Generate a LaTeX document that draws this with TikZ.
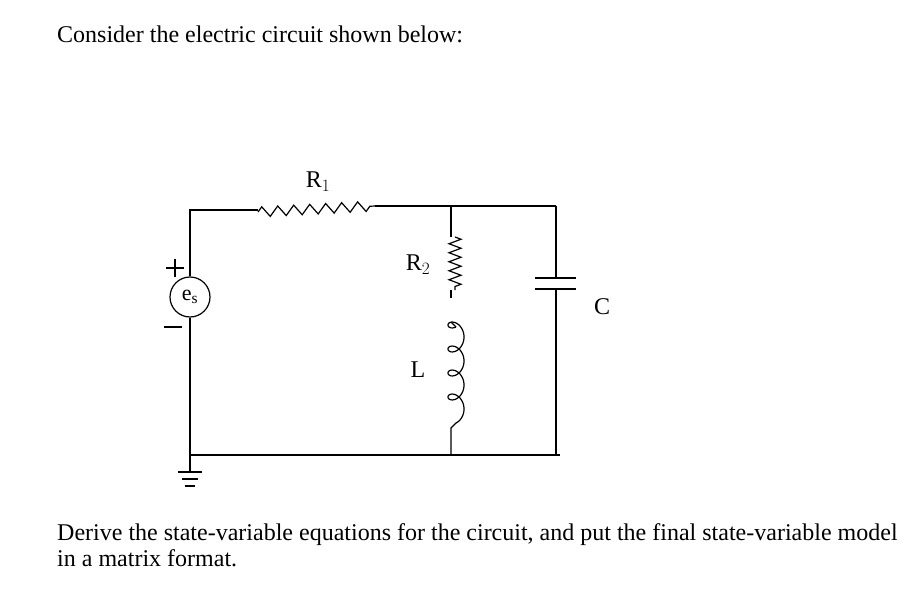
\documentclass[tikz,border=0pt]{standalone}
\usepackage{fontspec}
\setmainfont{Liberation Serif}
\usetikzlibrary{decorations.pathmorphing}
\begin{document}
\begin{tikzpicture}[x=1pt,y=-1pt,
  wire/.style={line width=1.2pt},
  zig/.style={wire,decorate,decoration={zigzag,amplitude=5pt,segment length=16pt}},
  zigb/.style={wire,decorate,decoration={zigzag,amplitude=6pt,segment length=9pt}},
  lbl/.style={font=\fontsize{24}{26}\selectfont,inner sep=0pt}]
\useasboundingbox (0,0) rectangle (918,596);
\node[lbl,anchor=base west] (t1) at (57,43) {Consider the electric circuit shown below:};
\node[lbl,anchor=base west] (t2) at (57,540) {Derive the state-variable equations for the circuit, and put the final state-variable model};
\node[lbl,anchor=base west] (t3) at (57,566) {in a matrix format.};
\coordinate (tl) at (190,210);
\coordinate (r1a) at (258,212);
\coordinate (r1b) at (375,206);
\coordinate (tm) at (451,206);
\coordinate (tr) at (556,206);
\coordinate (bl) at (190,455);
\coordinate (bm) at (451,455);
\coordinate (br) at (556,455);
\node[draw,wire,circle,minimum size=40pt,inner sep=0pt,font=\fontsize{22}{22}\selectfont] (es) at (190,297) {e$_\mathrm{s}$};
\draw[wire] (es) -- (tl) -- (258,210);
\draw[zig] (r1a) -- (r1b);
\draw[wire] (r1b) -- (tr);
\draw[wire] (es) -- (bl) -- (560,455);
\coordinate (r2a) at (451,237);
\coordinate (r2b) at (451,290);
\coordinate (la) at (451,322);
\coordinate (lb) at (451,428);
\draw[wire] (tm) -- (r2a);
\draw[zigb] (455,237) -- (455,290);
\draw[wire] (r2b) -- (451,298);
\draw[wire] (la) -- (456,327);
\draw[wire,smooth] plot[domain=90:1530,samples=240,variable=\t] ({456+8*cos(\t)},{313+\t/15+8*sin(\t)});
\draw[wire] (456,423) -- (lb) -- (bm);
\coordinate (c1) at (556,278);
\coordinate (c2) at (556,289);
\draw[wire] (tr) -- (c1);
\draw[wire] (c2) -- (br);
\draw[wire] (535,278) -- (576,278);
\draw[wire] (535,289) -- (576,289);
\coordinate (g) at (190,472);
\draw[wire] (bl) -- (g);
\draw[wire] (178,472) -- (202,472);
\draw[wire] (182,479) -- (198,479);
\draw[wire] (185,486) -- (195,486);
\node[lbl] (lr1) at (318,182) {R$_1$};
\node[lbl] (lr2) at (418,265) {R$_2$};
\node[lbl] (ll) at (418,370) {L};
\node[lbl] (lc) at (602,307) {C};
\draw[wire] (166,268) -- (184,268) (175,259) -- (175,277);
\draw[wire] (164,327) -- (182,327);
\end{tikzpicture}
\end{document}
